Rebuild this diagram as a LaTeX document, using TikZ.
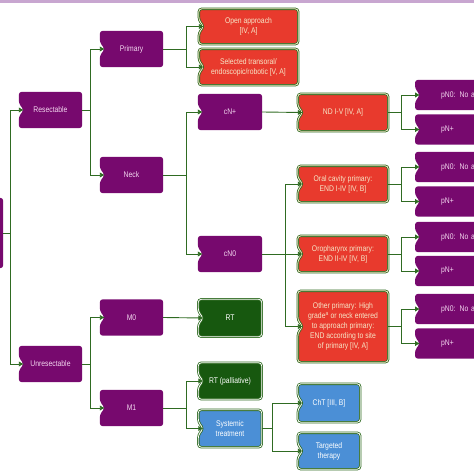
\documentclass[tikz,border=0pt]{standalone}
\usepackage{fontspec}
\setmainfont{Liberation Sans}[FakeStretch=0.83]
\usetikzlibrary{backgrounds,arrows.meta}
\definecolor{pur}{HTML}{77096E}
\definecolor{redb}{HTML}{E83A2D}
\definecolor{grnb}{HTML}{17580F}
\definecolor{conn}{HTML}{2F6B22}
\definecolor{blub}{HTML}{4B8FD6}
\definecolor{lav}{HTML}{C8A6D0}
\definecolor{cream}{HTML}{F6E7C8}
\definecolor{ptext}{HTML}{F4D8F0}
\newcommand\nb[2]{\path[#2,rounded corners=3pt] ([yshift=6.5pt]#1.west) -- (#1.north west) -- (#1.north east) -- (#1.south east) -- (#1.south west) -- ([yshift=-6.5pt]#1.west) -- ([xshift=5pt]#1.west) -- cycle;}
\begin{document}
\begin{tikzpicture}[x=1pt,y=-1pt,
  box/.style={minimum height=36pt,inner sep=1pt,align=center,font=\fontsize{8.2}{10}\selectfont},
  pbox/.style={box,text=ptext},
  rbox/.style={box,text=cream},
  gbox/.style={box,text=white},
  bbox/.style={box,text=white},
  pnbox/.style={pbox,anchor=west,minimum height=30pt,text width=80pt,inner xsep=26pt,align=left},
  pfill/.style={fill=pur},
  rfill/.style={fill=redb,draw=conn,double=cream,line width=0.8pt,double distance=0.8pt},
  gfill/.style={fill=grnb,draw=conn,double=white,line width=0.8pt,double distance=0.8pt},
  bfill/.style={fill=blub,draw=conn,double=white,line width=0.8pt,double distance=0.8pt},
  cn/.style={draw=conn,line width=0.9pt,-{Latex[length=5pt,width=5.5pt]}}
]
\useasboundingbox (0,0) rectangle (474,474);
\clip (0,0) rectangle (474,474);
\fill[lav] (0,0) rectangle (474,3);
% column 0
\node[pbox,minimum width=63pt,minimum height=70pt] (root) at (-28.5,233) {};
% column 1
\node[pbox,minimum width=63pt] (res) at (50.5,110) {Resectable};
\node[pbox,minimum width=63pt] (unres) at (50.5,364) {Unresectable};
% column 2
\node[pbox,minimum width=63pt] (prim) at (131.5,49) {Primary};
\node[pbox,minimum width=63pt] (neck) at (131.5,175) {Neck};
\node[pbox,minimum width=63pt] (m0) at (131.5,317.5) {M0};
\node[pbox,minimum width=63pt] (m1) at (131.5,408) {M1};
% column 3
\node[rbox,minimum width=99pt,minimum height=35pt] (open) at (248.5,26.5) {Open approach\\{}[IV, A]};
\node[rbox,minimum width=99pt] (sel) at (248.5,67) {Selected transoral/\\endoscopic/robotic [V, A]};
\node[pbox,minimum width=64pt] (cnp) at (230,112) {cN+};
\node[pbox,minimum width=64pt] (cn0) at (230,254) {cN0};
\node[gbox,minimum width=63pt,minimum height=37pt] (rt) at (230,318) {RT};
\node[gbox,minimum width=63pt] (rtp) at (230,381) {RT (palliative)};
\node[bbox,minimum width=63pt,minimum height=37pt] (sys) at (230,428.5) {Systemic\\treatment};
% column 4
\node[rbox,minimum width=90pt,minimum height=37pt] (nd) at (343,112.5) {ND I-V [IV, A]};
\node[rbox,minimum width=90pt] (oral) at (343,184) {Oral cavity primary:\\END I-IV [IV, B]};
\node[rbox,minimum width=90pt] (oro) at (343,254) {Oropharynx primary:\\END II-IV [IV, B]};
\node[rbox,minimum width=90pt,minimum height=71pt] (oth) at (343,326.5) {Other primary: High\\grade\textsuperscript{a} or neck entered\\to approach primary:\\END according to site\\of primary [IV, A]};
\node[bbox,minimum width=62pt,minimum height=38pt] (cht) at (329,403) {ChT [III, B]};
\node[bbox,minimum width=62pt] (tgt) at (329,451) {Targeted\\therapy};
% column 5
\node[pnbox] (a1) at (415,95) {pN0: No a};
\node[pnbox] (a2) at (415,129.5) {pN+};
\node[pnbox] (b1) at (415,167) {pN0: No a};
\node[pnbox] (b2) at (415,201.5) {pN+};
\node[pnbox] (c1) at (415,237) {pN0: No a};
\node[pnbox] (c2) at (415,271) {pN+};
\node[pnbox] (d1) at (415,309) {pN0: No a};
\node[pnbox] (d2) at (415,343.5) {pN+};
\begin{scope}[on background layer]
\fill[pur,rounded corners=3pt] (root.north west) rectangle (root.south east);
\foreach \n in {res,unres,prim,neck,m0,m1,cnp,cn0,a1,a2,b1,b2,c1,c2,d1,d2}{\nb{\n}{pfill}}
\foreach \n in {open,sel,nd,oral,oro,oth}{\nb{\n}{rfill}}
\foreach \n in {rt,rtp}{\nb{\n}{gfill}}
\foreach \n in {sys,cht,tgt}{\nb{\n}{bfill}}
\end{scope}
% connectors
\draw[cn] (root.east) -- ++(7,0) |- ([xshift=5pt]res.west);
\draw[cn] (root.east) -- ++(7,0) |- ([xshift=5pt]unres.west);
\draw[cn] (res.east) -- ++(8,0) |- ([xshift=5pt]prim.west);
\draw[cn] (res.east) -- ++(8,0) |- ([xshift=5pt]neck.west);
\draw[cn] (unres.east) -- ++(8,0) |- ([xshift=5pt]m0.west);
\draw[cn] (unres.east) -- ++(8,0) |- ([xshift=5pt]m1.west);
\draw[cn] (prim.east) -- ++(23,0) |- ([xshift=5pt]open.west);
\draw[cn] (prim.east) -- ++(23,0) |- ([xshift=5pt]sel.west);
\draw[cn] (neck.east) -- ++(23,0) |- ([xshift=5pt]cnp.west);
\draw[cn] (neck.east) -- ++(23,0) |- ([xshift=5pt]cn0.west);
\draw[cn] (m0.east) -- ([xshift=5pt]rt.west);
\draw[cn] (m1.east) -- ++(23,0) |- ([xshift=5pt]rtp.west);
\draw[cn] (m1.east) -- ++(23,0) |- ([xshift=5pt]sys.west);
\draw[cn] (cnp.east) -- ([xshift=5pt]nd.west);
\draw[cn] (cn0.east) -- ++(23,0) |- ([xshift=5pt]oral.west);
\draw[cn] (cn0.east) -- ([xshift=5pt]oro.west);
\draw[cn] (cn0.east) -- ++(23,0) |- ([xshift=5pt]oth.west);
\draw[cn] (sys.east) -- ++(11,0) |- ([xshift=5pt]cht.west);
\draw[cn] (sys.east) -- ++(11,0) |- ([xshift=5pt]tgt.west);
\draw[cn] (nd.east) -- ++(13,0) |- ([xshift=5pt]a1.west);
\draw[cn] (nd.east) -- ++(13,0) |- ([xshift=5pt]a2.west);
\draw[cn] (oral.east) -- ++(13,0) |- ([xshift=5pt]b1.west);
\draw[cn] (oral.east) -- ++(13,0) |- ([xshift=5pt]b2.west);
\draw[cn] (oro.east) -- ++(13,0) |- ([xshift=5pt]c1.west);
\draw[cn] (oro.east) -- ++(13,0) |- ([xshift=5pt]c2.west);
\draw[cn] (oth.east) -- ++(13,0) |- ([xshift=5pt]d1.west);
\draw[cn] (oth.east) -- ++(13,0) |- ([xshift=5pt]d2.west);
\end{tikzpicture}
\end{document}
